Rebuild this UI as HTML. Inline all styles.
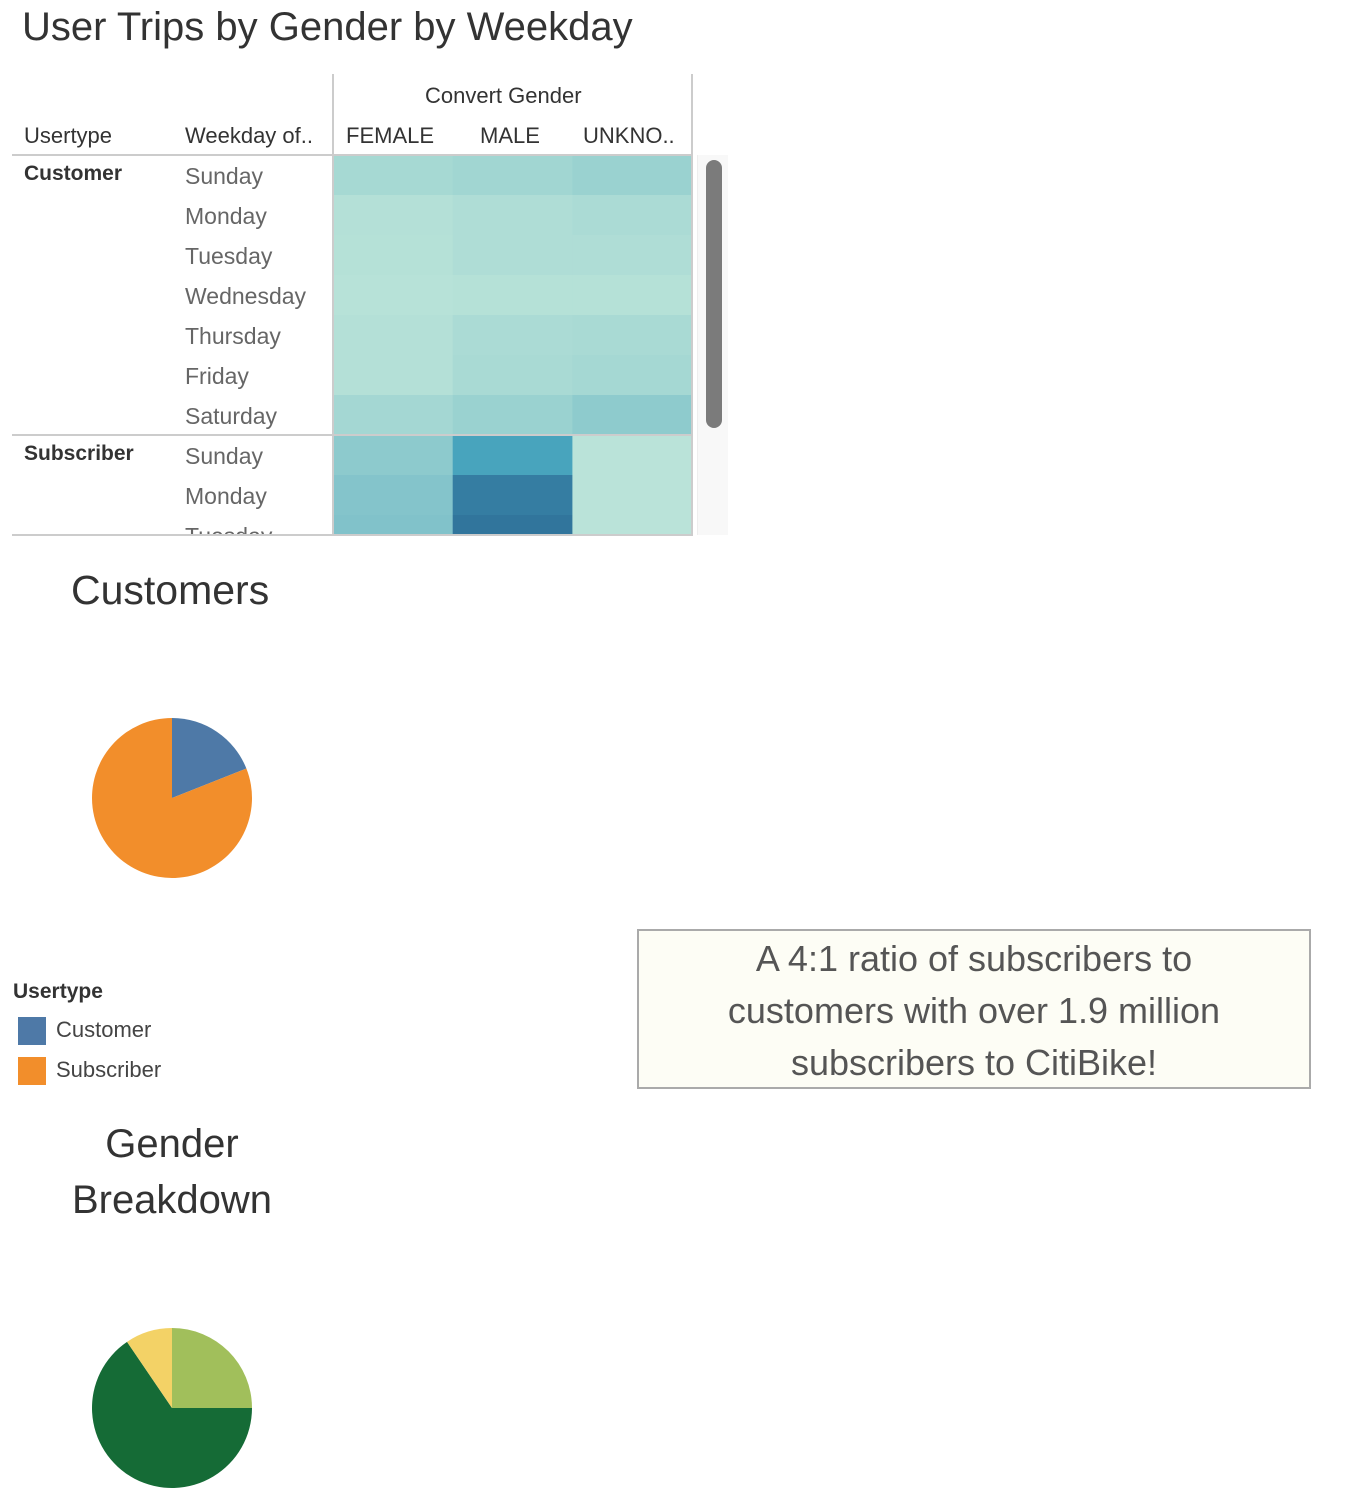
<!DOCTYPE html>
<html><head><meta charset="utf-8">
<style>
body{margin:0;width:1356px;height:1510px;background:#fff;font-family:"Liberation Sans",sans-serif;color:#333;position:relative;overflow:hidden}
.a{position:absolute;white-space:nowrap}
.hd{font-size:22px;color:#333}
.b{font-weight:bold;font-size:21px}
</style></head><body>
<div class="a" style="left:22px;top:5px;font-size:40px;color:#333">User Trips by Gender by Weekday</div>
<div class="a hd" style="left:425px;top:83px">Convert Gender</div>
<div class="a hd" style="left:24px;top:123px">Usertype</div>
<div class="a hd" style="left:185px;top:123px">Weekday of..</div>
<div class="a hd" style="left:346px;top:123px">FEMALE</div>
<div class="a hd" style="left:480px;top:123px">MALE</div>
<div class="a hd" style="left:583px;top:123px">UNKNO..</div>
<div class="a hd b" style="left:24px;top:162px">Customer</div>
<div class="a hd b" style="left:24px;top:442px">Subscriber</div>
<svg id="hm" class="a" style="left:0;top:0" width="740" height="540"></svg>
<div class="a" style="left:697px;top:155px;width:30px;height:380px;background:#f8f8f8;border-left:1px solid #eee"></div>
<div class="a" style="left:706px;top:160px;width:16px;height:268px;background:#7b7b7b;border-radius:8px"></div>

<div class="a" style="left:71px;top:567px;font-size:41px">Customers</div>
<svg id="pie1" class="a" style="left:82px;top:708px" width="180" height="180"></svg>
<div class="a hd b" style="left:13px;top:980px">Usertype</div>
<div class="a" style="left:18px;top:1017px;font-size:22px;color:#444"><span style="display:inline-block;width:28px;height:28px;background:#4e79a7;vertical-align:middle;margin-right:10px"></span>Customer</div>
<div class="a" style="left:18px;top:1057px;font-size:22px;color:#444"><span style="display:inline-block;width:28px;height:28px;background:#f28e2b;vertical-align:middle;margin-right:10px"></span>Subscriber</div>
<div class="a" style="left:40px;top:1116px;width:264px;text-align:center;font-size:40px;line-height:56px;white-space:normal">Gender<br>Breakdown</div>
<svg id="pie2" class="a" style="left:82px;top:1318px" width="180" height="180"></svg>
<div class="a" style="left:637px;top:929px;width:674px;height:160px;border:2px solid #aaa;background:#fdfdf5;font-size:36px;line-height:52px;text-align:center;color:#555;padding-top:2px;box-sizing:border-box">A 4:1 ratio of subscribers to<br>customers with over 1.9 million<br>subscribers to CitiBike!</div>
<script>
const days=["Sunday","Monday","Tuesday","Wednesday","Thursday","Friday","Saturday","Sunday","Monday","Tuesday"];
const genders=["FEMALE","MALE","UNKNOWN"];
const female=[18,8,7,6,8,8,20,36,42,44];
const male=[22,12,12,7,15,16,27,64,90,95];
const unknown=[27,15,12,7,16,19,35,4,4,4];
const maxV=100;
const ns="http://www.w3.org/2000/svg";
const stops=[[0,[191,230,218]],[0.3,[150,208,207]],[0.45,[127,193,202]],[0.65,[69,162,188]],[1,[46,110,151]]];
function col(v){let t=v/maxV;for(let i=1;i<stops.length;i++){if(t<=stops[i][0]){const a=stops[i-1],b=stops[i];const f=(t-a[0])/(b[0]-a[0]);return "rgb("+a[1].map((c,k)=>Math.round(c+(b[1][k]-c)*f)).join(",")+")";}}return "rgb(46,110,151)";}
const hm=document.getElementById('hm');
function mk(t,at){const e=document.createElementNS(ns,t);for(const k in at)e.setAttribute(k,at[k]);return e;}
const x0=333,cw=119.7,y0=155,rh=40;
const g=mk('g',{'clip-path':'url(#c)'});
const defs=mk('defs',{});const cp=mk('clipPath',{id:'c'});cp.appendChild(mk('rect',{x:0,y:0,width:740,height:535}));defs.appendChild(cp);hm.appendChild(defs);hm.appendChild(g);
const series=[female,male,unknown];
days.forEach((d,i)=>{
  series.forEach((s,j)=>{
    const r=mk('rect',{x:x0+j*cw,y:y0+i*rh,width:cw+0.5,height:rh+0.5,fill:col(s[i])});
    
    
    g.appendChild(r);
  });
  const t=mk('text',{x:185,y:y0+i*rh+29,'font-size':23,fill:'#666','font-family':'Liberation Sans, sans-serif'});
  t.textContent=d;
  
  
  g.appendChild(t);
});
[[12,155,693,155],[12,435,693,435],[12,535,693,535],[333,74,333,535],[692,74,692,535]].forEach(l=>{
  const e=mk('line',{x1:l[0],y1:l[1],x2:l[2],y2:l[3],stroke:'#ccc','stroke-width':2});
  
  
  hm.appendChild(e);
});
function pie(id,vals,cols){
  const s=document.getElementById(id);const tot=vals.reduce((a,b)=>a+b,0);let a=0;const cx=90,cy=90,r=80;
  vals.forEach((v,i)=>{
    const a1=a+v/tot*2*Math.PI;
    const p=mk('path',{d:`M${cx},${cy}L${cx+r*Math.sin(a)},${cy-r*Math.cos(a)}A${r},${r} 0 ${a1-a>Math.PI?1:0} 1 ${cx+r*Math.sin(a1)},${cy-r*Math.cos(a1)}Z`,fill:cols[i]});
    
    
    s.appendChild(p);a=a1;
  });
}
const usertypeVals=[19,81];
const genderVals=[25,65.5,9.5];
pie('pie1',usertypeVals,['#4e79a7','#f28e2b']);
pie('pie2',genderVals,['#a1bf5b','#156b36','#f3d266']);
</script>
</body></html>
